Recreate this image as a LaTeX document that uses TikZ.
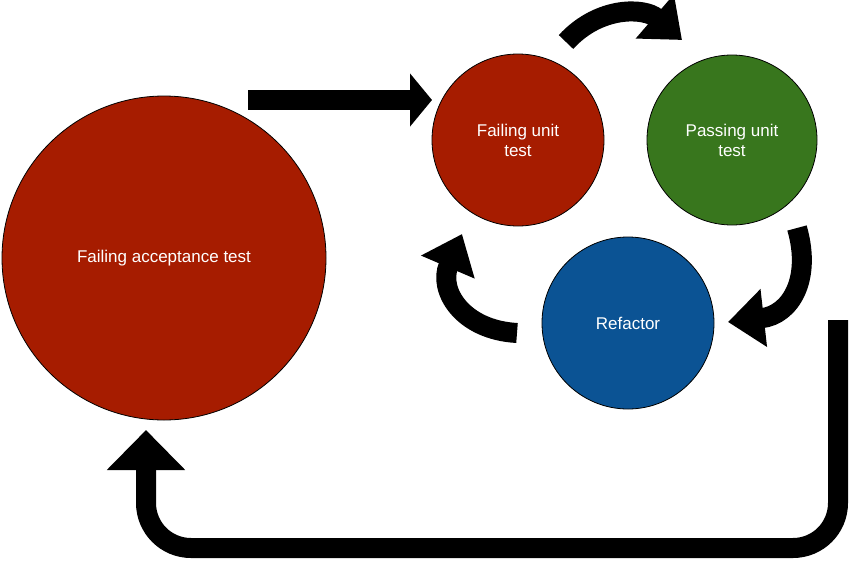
\documentclass[tikz,border=0pt]{standalone}
\usepackage{fontspec}
\setmainfont{Liberation Sans}
\usetikzlibrary{arrows.meta}
\definecolor{cred}{HTML}{A61C00}
\definecolor{cgreen}{HTML}{38761D}
\definecolor{cblue}{HTML}{0B5394}
\tikzset{
 circ/.style={circle,draw=black,line width=0.8pt,inner sep=0pt,align=center,text=white,font=\fontsize{17}{20}\selectfont},
 fat/.style={line width=20pt,-{Triangle[length=36pt,width=56pt]}},
 fatb/.style={line width=20pt,-{Triangle[length=40pt,width=76pt]},rounded corners=45pt}
}
\begin{document}
\begin{tikzpicture}[x=1pt,y=-1pt]
\useasboundingbox (0,0) rectangle (849,568);
\node[circ,fill=cred,minimum size=324pt] (acc) at (164,258) {Failing acceptance test};
\node[circ,fill=cred,minimum size=172pt] (fail) at (518,140) {Failing unit\\test};
\node[circ,fill=cgreen,minimum size=170pt] (pass) at (732,140) {Passing unit\\test};
\node[circ,fill=cblue,minimum size=172pt] (ref) at (628,323) {Refactor};
\coordinate (s0) at (248,100);
\draw[line width=20pt,-{Triangle[length=22pt,width=52pt]}] (s0) -- (432,100);
\draw[fat] (566,42) .. controls (600,5) and (645,8) .. (682,40);
\draw[fat] (797,228) .. controls (812,280) and (790,315) .. (728,322);
\draw[fat] (517,333) .. controls (462,330) and (438,290) .. (462,234);
\draw[fatb] (838,320) -- (838,548) -- (146,548) -- (146,430);
\end{tikzpicture}
\end{document}
